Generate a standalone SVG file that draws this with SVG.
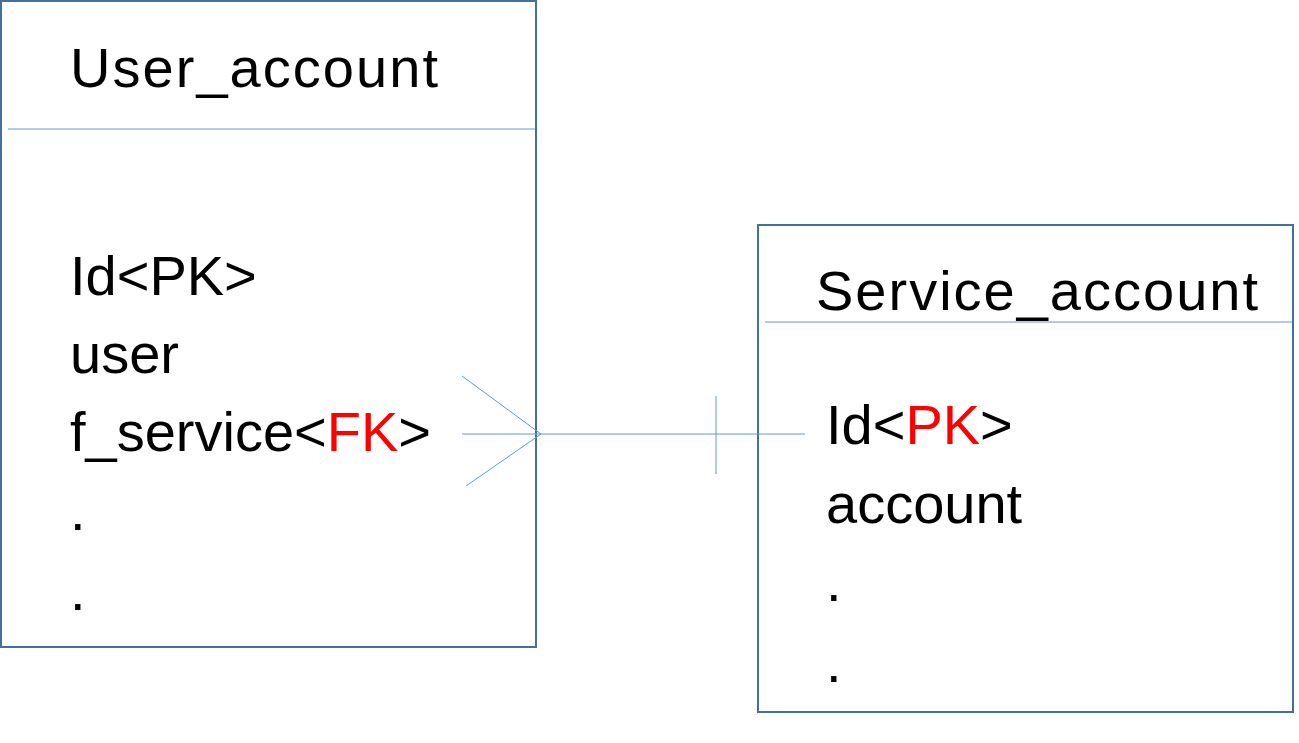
<svg xmlns="http://www.w3.org/2000/svg" width="1299" height="743" viewBox="0 0 1299 743">
<style>
.box{fill:#fff;stroke:#41719c;stroke-width:2}
.sep{stroke:#5b9bd5;stroke-width:1}
.c{stroke:#5b9bd5;stroke-width:1;fill:none}
text{font-family:"Liberation Sans",Arial,sans-serif;font-size:56px;fill:#000}
.r{fill:#ff0000}
</style>
<rect width="1299" height="743" fill="#fff"/>
<g id="user_account">
<rect class="box" x="1" y="1" width="535" height="646"/>
<line class="sep" x1="8" y1="129" x2="535" y2="129"/>
<text x="70" y="87" textLength="368">User_account</text>
<text x="70" y="295">Id&lt;PK&gt;</text>
<text x="70" y="373">user</text>
<text x="70" y="451">f_service&lt;<tspan class="r">FK</tspan>&gt;</text>
<text x="70" y="530">.</text>
<text x="70" y="610">.</text>
</g>
<g id="service_account">
<rect class="box" x="758" y="225" width="535" height="487"/>
<line class="sep" x1="765" y1="322" x2="1292" y2="322"/>
<text x="816" y="310" textLength="442">Service_account</text>
<text x="826" y="444">Id&lt;<tspan class="r">PK</tspan>&gt;</text>
<text x="826" y="523">account</text>
<text x="826" y="601">.</text>
<text x="826" y="682">.</text>
</g>
<g id="connectors">
<line class="c" x1="462" y1="434" x2="805" y2="434"/>
<line class="c" x1="462" y1="376" x2="541" y2="434"/>
<line class="c" x1="466" y1="486" x2="541" y2="434"/>
<line class="c" x1="716" y1="396" x2="716" y2="474"/>
</g>
</svg>
